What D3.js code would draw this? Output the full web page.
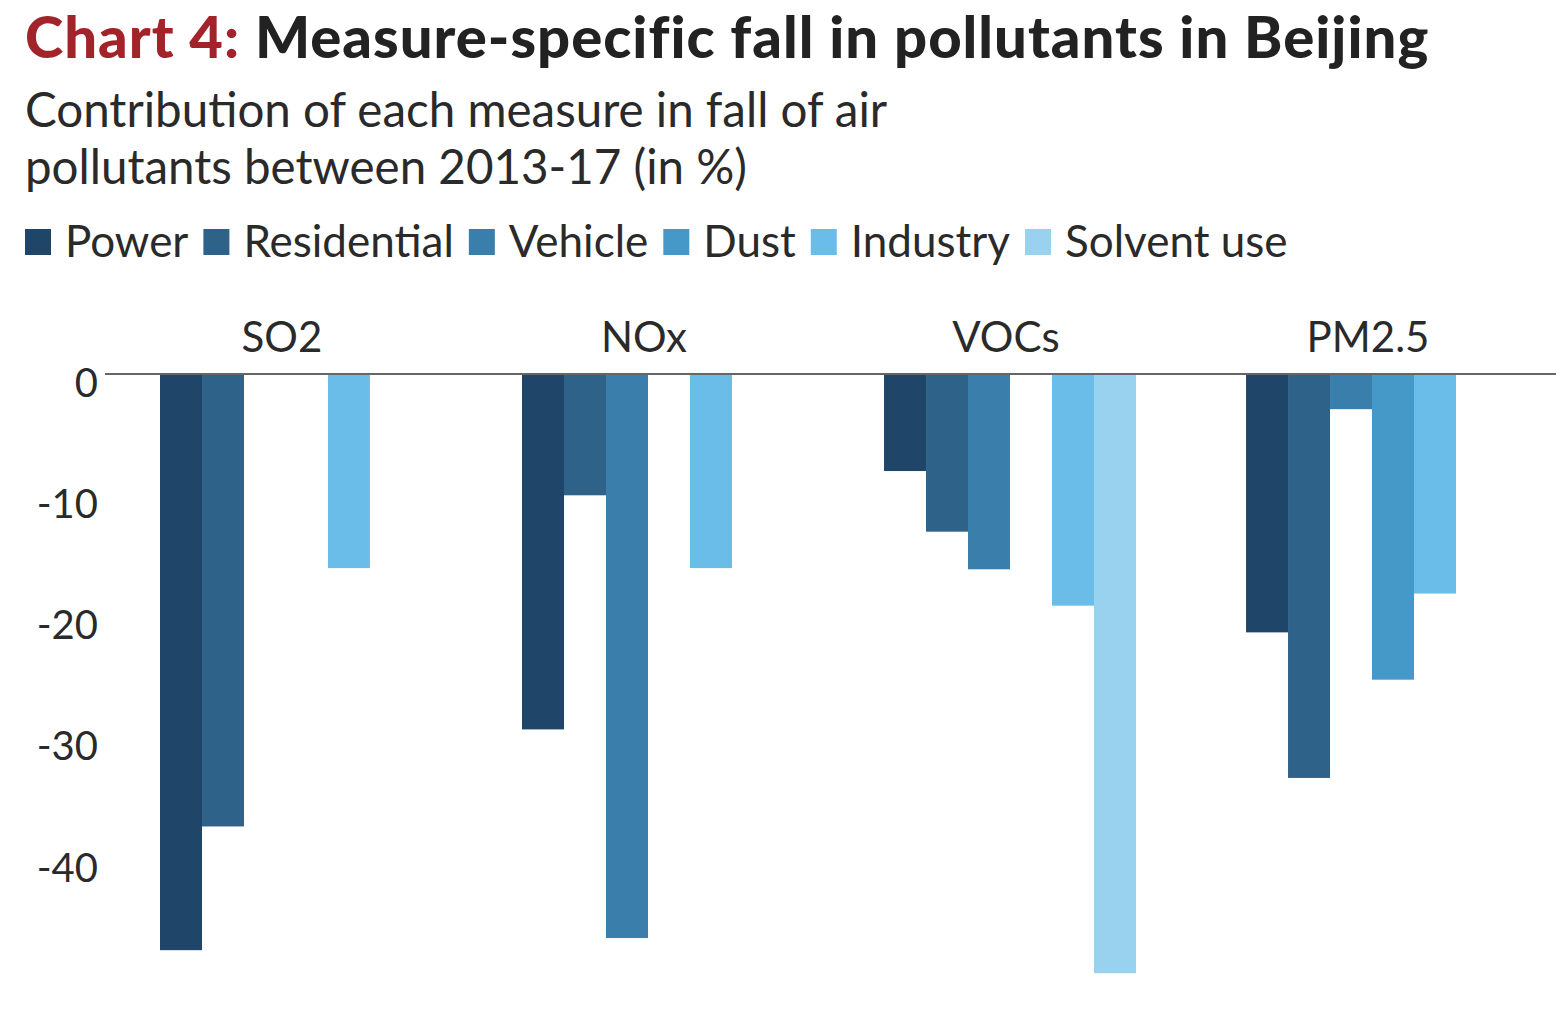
<!DOCTYPE html>
<html>
<head>
<meta charset="utf-8">
<script src="https://cdn.jsdelivr.net/npm/d3@7"></script>
<style>
  html, body { margin: 0; padding: 0; background: #fff; }
  svg { display: block; font-family: "Lato", "Open Sans", sans-serif; }
</style>
</head>
<body>
<div id="chart"></div>
<script>
// ── Data ───────────────────────────────────────────────────────────────
const pollutants = ["SO2", "NOx", "VOCs", "PM2.5"];
const measures = ["Power", "Residential", "Vehicle", "Dust", "Industry", "Solvent use"];
const measureColors = ["#1f4568", "#2e6289", "#3a7fab", "#4499c8", "#6bbde9", "#98d2ee"];

// values per pollutant, in the order of `measures` (null = no bar)
const so2Values = [-47.5, -37.3, null, null, -16, null];
const noxValues = [-29.3, -10, -46.5, null, -16, null];
const vocValues = [-8, -13, -16.1, null, -19.1, -49.4];
const pm25Values = [-21.3, -33.3, -2.9, -25.2, -18.1, null];

const yTicks = [0, -10, -20, -30, -40];

const seriesByPollutant = [so2Values, noxValues, vocValues, pm25Values];

// ── SVG ────────────────────────────────────────────────────────────────
const W = 1568, H = 1016;
const svg = d3.select("#chart").append("svg")
  .attr("width", W).attr("height", H);

// ── Title / subtitle ───────────────────────────────────────────────────
const title = svg.append("text")
  .attr("x", 25).attr("y", 58)
  .style("font-size", "58px").style("font-weight", 900)
  .style("letter-spacing", "1px");
title.append("tspan").attr("fill", "#a3232a").text("Chart 4: ");
title.append("tspan").attr("fill", "#222").text("Measure-specific fall in pollutants in Beijing");

["Contribution of each measure in fall of air", "pollutants between 2013-17 (in %)"]
  .forEach((t, i) => {
    svg.append("text")
      .attr("x", 25).attr("y", 127 + i * 57)
      .attr("fill", "#2a2a2a")
      .style("font-size", "47.5px")
      .text(t);
  });

// ── Legend ─────────────────────────────────────────────────────────────
const legend = svg.append("g").attr("transform", "translate(25, 229)");
let lx = 0;
measures.forEach((m, i) => {
  legend.append("rect")
    .attr("x", lx).attr("y", 0)
    .attr("width", 26).attr("height", 26)
    .attr("fill", measureColors[i]);
  const t = legend.append("text")
    .attr("x", lx + 40).attr("y", 28)
    .attr("fill", "#2a2a2a")
    .style("font-size", "44px")
    .text(m);
  lx += 40 + t.node().getComputedTextLength() + 15;
});

// ── Scales ─────────────────────────────────────────────────────────────
const y = d3.scaleLinear().domain([0, -50]).range([374, 980.5]);

const x0 = d3.scaleBand()
  .domain(pollutants)
  .range([160, 1498])
  .paddingInner(0.304)
  .paddingOuter(0);

const x1 = d3.scaleBand()
  .domain(measures)
  .range([0, x0.bandwidth()])
  .padding(0);

const color = d3.scaleOrdinal().domain(measures).range(measureColors);

// ── Y tick labels ──────────────────────────────────────────────────────
const yAxis = svg.append("g")
  .attr("transform", "translate(98,0)")
  .call(d3.axisLeft(y).tickValues(yTicks).tickSize(0).tickPadding(0).tickFormat((d) => String(d)));
yAxis.select(".domain").remove();
yAxis.selectAll("text")
  .attr("dy", "0.55em")
  .attr("fill", "#2a2a2a")
  .style("font-size", "40px")
  .style("font-family", "Lato, sans-serif");

// ── Bars ───────────────────────────────────────────────────────────────
pollutants.forEach((p, pi) => {
  const g = svg.append("g").attr("transform", `translate(${x0(p)},0)`);
  const rows = measures
    .map((m, mi) => ({ measure: m, value: seriesByPollutant[pi][mi] }))
    .filter((d) => d.value != null);

  g.selectAll("rect")
    .data(rows)
    .join("rect")
    .attr("x", (d) => x1(d.measure))
    .attr("y", y(0))
    .attr("width", x1.bandwidth())
    .attr("height", (d) => y(d.value) - y(0))
    .attr("fill", (d) => color(d.measure));

  // category label
  svg.append("text")
    .attr("x", x0(p) + x0.bandwidth() / 2 - 4)
    .attr("y", 352)
    .attr("text-anchor", "middle")
    .attr("fill", "#2a2a2a")
    .style("font-size", "42px")
    .text(p);
});

// ── Zero line ──────────────────────────────────────────────────────────
svg.append("line")
  .attr("x1", 105).attr("x2", 1556)
  .attr("y1", y(0)).attr("y2", y(0))
  .attr("stroke", "#666").attr("stroke-width", 2);
</script>
</body>
</html>
